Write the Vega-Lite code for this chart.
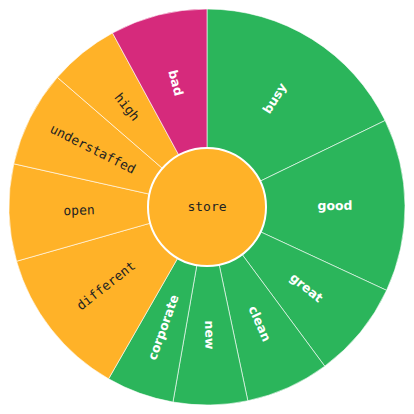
{
  "$schema": "https://vega.github.io/schema/vega-lite/v6.json",
  "width": 414,
  "height": 414,
  "autosize": {"type": "fit", "contains": "padding"},
  "config": {"view": {"stroke": "transparent"}},
  "datasets": {
    "words": [
      {"order": 1, "word": "busy", "sentiment": "positive", "value": 64.1},
      {"order": 2, "word": "good", "sentiment": "positive", "value": 50.8},
      {"order": 3, "word": "great", "sentiment": "positive", "value": 28.6},
      {"order": 4, "word": "clean", "sentiment": "positive", "value": 24.6},
      {"order": 5, "word": "new", "sentiment": "positive", "value": 21.8},
      {"order": 6, "word": "corporate", "sentiment": "positive", "value": 19.9},
      {"order": 7, "word": "different", "sentiment": "neutral", "value": 44.3},
      {"order": 8, "word": "open", "sentiment": "neutral", "value": 28.5},
      {"order": 9, "word": "understaffed", "sentiment": "neutral", "value": 28.3},
      {"order": 10, "word": "high", "sentiment": "neutral", "value": 20.6},
      {"order": 11, "word": "bad", "sentiment": "negative", "value": 28.5}
    ],
    "hub": [
      {"word": "store", "sentiment": "neutral"}
    ]
  },
  "layer": [
    {
      "data": {"name": "words"},
      "mark": {"type": "arc", "radius": 198, "radius2": 59, "stroke": "#ffffff", "strokeWidth": 0.6},
      "encoding": {
        "theta": {"field": "value", "type": "quantitative", "stack": true},
        "order": {"field": "order", "type": "quantitative"},
        "color": {
          "field": "sentiment",
          "type": "nominal",
          "scale": {"domain": ["positive", "neutral", "negative"], "range": ["#2bb55b", "#ffb228", "#d62a7c"]},
          "legend": null
        }
      }
    },
    {
      "data": {"name": "words"},
      "mark": {
        "type": "text",
        "radius": 128,
        "align": "center",
        "baseline": "middle",
        "angle": {"expr": "(datum.value_start + datum.value_end) / 2 < 180 ? (datum.value_start + datum.value_end) / 2 - 90 : (datum.value_start + datum.value_end) / 2 - 270"},
        "font": {"expr": "datum.sentiment == 'neutral' ? 'DejaVu Sans Mono' : 'DejaVu Sans'"},
        "fontSize": {"expr": "datum.sentiment == 'neutral' ? 13 : 12.5"},
        "fontWeight": {"expr": "datum.sentiment == 'neutral' ? 'normal' : 'bold'"}
      },
      "encoding": {
        "theta": {"field": "value", "type": "quantitative", "stack": true},
        "order": {"field": "order", "type": "quantitative"},
        "text": {"field": "word", "type": "nominal"},
        "color": {
          "condition": {"test": "datum.sentiment == 'neutral'", "value": "#222222"},
          "value": "#ffffff"
        }
      }
    },
    {
      "data": {"name": "hub"},
      "mark": {"type": "arc", "theta": 0, "theta2": 6.2832, "radius": 59, "radius2": 0, "fill": "#ffb228", "stroke": "#ffffff", "strokeWidth": 2},
      "encoding": {}
    },
    {
      "data": {"name": "hub"},
      "mark": {"type": "text", "font": "DejaVu Sans Mono", "fontSize": 13, "color": "#222222", "align": "center", "baseline": "middle"},
      "encoding": {
        "text": {"field": "word", "type": "nominal"}
      }
    }
  ]
}
